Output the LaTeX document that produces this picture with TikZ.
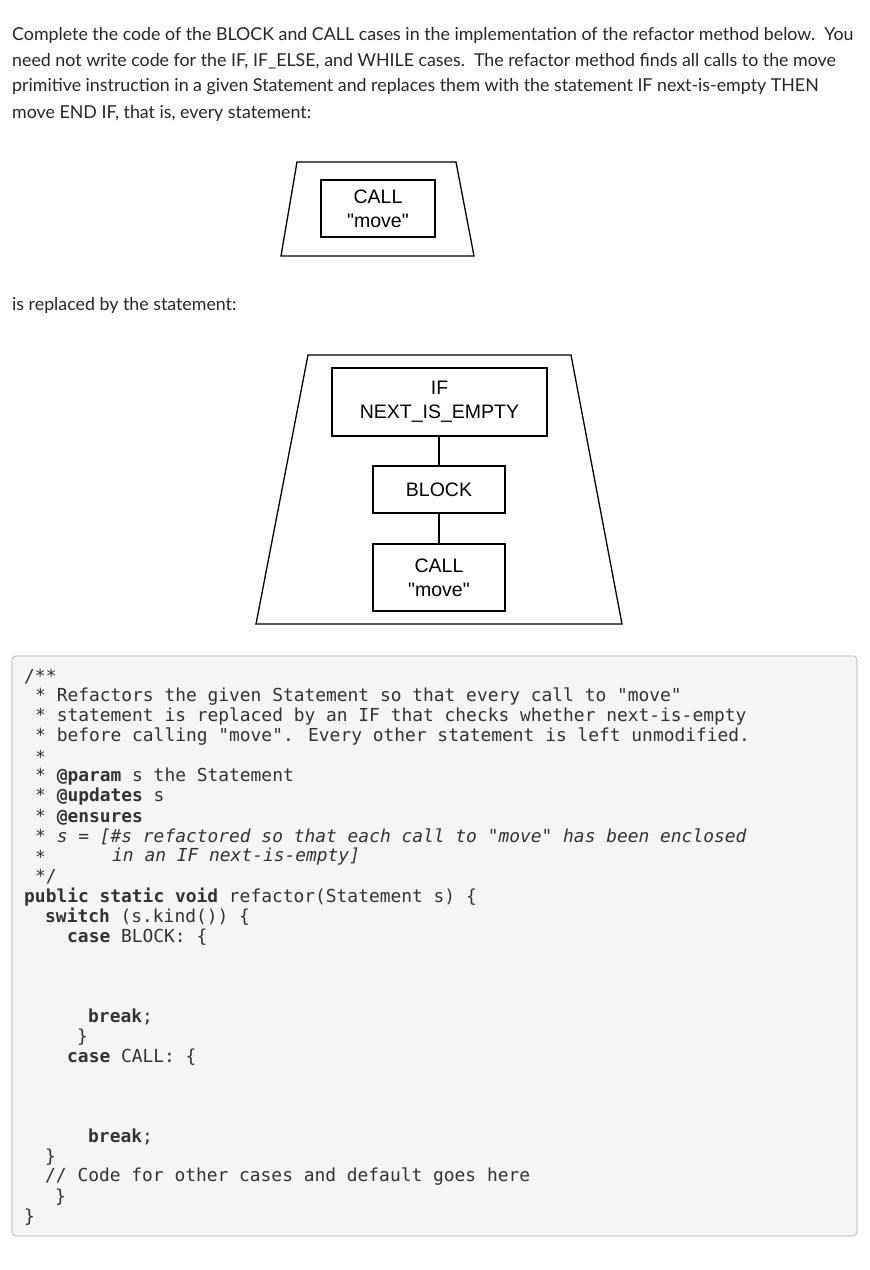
\documentclass[tikz,border=0pt]{standalone}
\usepackage{fontspec}
\setmainfont{Lato}
\newfontfamily\codef{DejaVu Sans Mono}
\newfontfamily\boxf{Liberation Sans}
\begin{document}
\begin{tikzpicture}[x=1pt,y=-1pt,
  para/.style={anchor=west,inner sep=0pt,font=\fontsize{17.8}{17.8}\selectfont,text=black!85},
  bx/.style={draw,line width=1.3pt,align=center,font=\boxf\fontsize{19.5}{24}\selectfont,inner sep=0pt},
  trap/.style={draw,line width=1.3pt},
  cl/.style={anchor=west,inner sep=0pt,font=\codef\fontsize{17.9}{17.9}\selectfont,text=black!80}]
\useasboundingbox (0,0) rectangle (870,1270);
\node[para] (p1) at (12,35) {Complete the code of the BLOCK and CALL cases in the implementation of the refactor method below.\ \ You};
\node[para] (p2) at (12,61) {need not write code for the IF, IF\_ELSE, and WHILE cases.\ \ The refactor method finds all calls to the move};
\node[para] (p3) at (12,87) {primitive instruction in a given Statement and replaces them with the statement IF next-is-empty THEN};
\node[para] (p4) at (12,113) {move END IF, that is, every statement:};
\node[para] (p5) at (12,305) {is replaced by the statement:};
% diagram 1
\draw[trap] (297,162) -- (456,162) -- (474,256) -- (281,256) -- cycle;
\node[bx,minimum width=114pt,minimum height=57pt] (c1) at (378,208.5) {CALL\\"move"};
% diagram 2
\draw[trap] (308,355) -- (571,355) -- (622,624) -- (256,624) -- cycle;
\node[bx,minimum width=215pt,minimum height=68pt] (if) at (439.5,402) {IF\\NEXT\_IS\_EMPTY};
\node[bx,minimum width=132pt,minimum height=47pt] (blk) at (439,489.5) {BLOCK};
\node[bx,minimum width=132pt,minimum height=67pt] (c2) at (439,577.5) {CALL\\"move"};
\draw[line width=1.3pt] (if.south -| blk) -- (blk.north);
\draw[line width=1.3pt] (blk.south) -- (c2.north);
% code panel
\draw[rounded corners=4pt,fill=black!4,draw=black!20,line width=1.3pt] (12,656) rectangle (857,1236);
\begin{scope}[yshift=-2pt]
\node[cl] (l1) at (24,675) {/**};
\node[cl] (l2) at (35,695) {* Refactors the given Statement so that every call to "move"};
\node[cl] (l3) at (35,715) {* statement is replaced by an IF that checks whether next-is-empty};
\node[cl] (l4) at (35,735) {* before calling "move". Every other statement is left unmodified.};
\node[cl] (l5) at (35,755) {*};
\node[cl] (l6) at (35,775) {* \textbf{@param} s the Statement};
\node[cl] (l7) at (35,795) {* \textbf{@updates} s};
\node[cl] (l8) at (35,815) {* \textbf{@ensures}};
\node[cl] (l9) at (35,835) {* \textit{s = [\#s refactored so that each call to "move" has been enclosed}};
\node[cl] (l10) at (35,855) {*};
\node[cl] (l10b) at (112,855) {\textit{in an IF next-is-empty]}};
\node[cl] (l11) at (35,875) {*/};
\node[cl] (l12) at (24,895) {\textbf{public static void} refactor(Statement s) \{};
\node[cl] (l13) at (45,915) {\textbf{switch} (s.kind()) \{};
\node[cl] (l14) at (67,935) {\textbf{case} BLOCK: \{};
\node[cl] (l15) at (88,1015) {\textbf{break};};
\node[cl] (l16) at (77,1035) {\}};
\node[cl] (l17) at (67,1055) {\textbf{case} CALL: \{};
\node[cl] (l18) at (88,1135) {\textbf{break};};
\node[cl] (l19) at (45,1155) {\}};
\node[cl] (l20) at (45,1175) {// Code for other cases and default goes here};
\node[cl] (l21) at (55,1195) {\}};
\node[cl] (l22) at (24,1215) {\}};
\end{scope}
\end{tikzpicture}
\end{document}
